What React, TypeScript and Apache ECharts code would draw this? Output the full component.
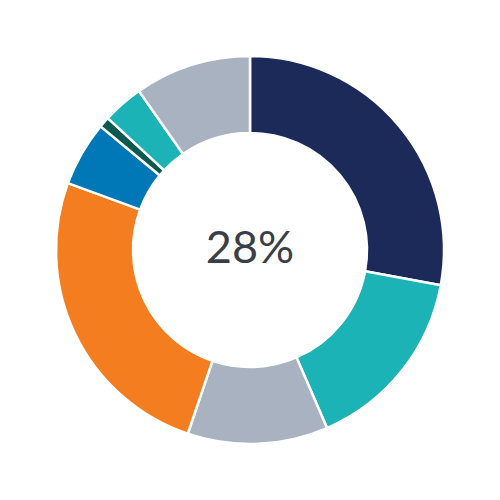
import React, { useEffect, useRef } from "react";
import * as echarts from "echarts";

const names = ["A", "B", "C", "D", "E", "F", "G", "H"];
const values = [27.9, 15.6, 11.7, 25.4, 5.4, 0.9, 3.4, 9.7];
const colors = ["#1c2a5a", "#1bb3b6", "#a8b2c1", "#f47d20", "#0077b7", "#0c5a4f", "#1bb3b6", "#a8b2c1"];
const centerLabel = "28%";

const App = () => {
  const chartRef = useRef<HTMLDivElement>(null);

  useEffect(() => {
    if (!chartRef.current) return;
    const chart = echarts.init(chartRef.current, null, { renderer: "svg" });

    const option = {
      animation: false,
      graphic: [
        {
          type: "text",
          x: 250,
          y: 246,
          style: {
            text: centerLabel,
            fontFamily: "Lato",
            fontWeight: 400,
            fontSize: 45,
            fill: "#3a3e47",
            align: "center",
            verticalAlign: "middle",
          },
        },
      ],
      series: [
        {
          type: "pie",
          center: [250, 250],
          radius: [117, 194],
          startAngle: 90,
          clockwise: true,
          label: { show: false },
          labelLine: { show: false },
          itemStyle: { borderColor: "#fff", borderWidth: 2.5 },
          data: names.map((n, i) => ({
            name: n,
            value: values[i],
            itemStyle: { color: colors[i] },
          })),
        },
      ],
    };

    chart.setOption(option);
    return () => chart.dispose();
  }, []);

  return <div ref={chartRef} style={{ width: 500, height: 500, margin: -8 }} />;
};

export default App;
